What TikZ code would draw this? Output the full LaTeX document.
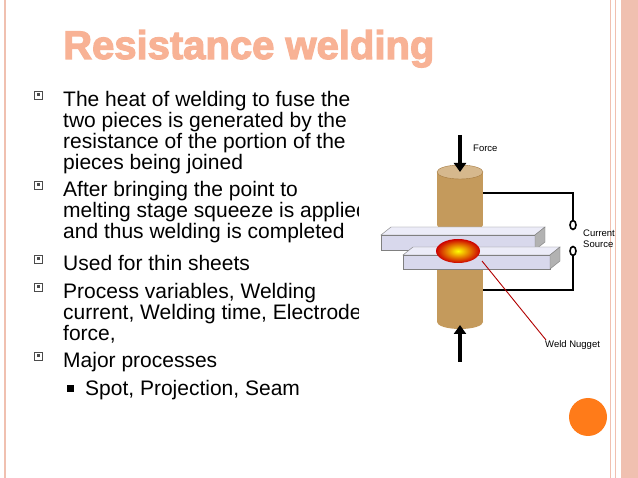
\documentclass[tikz,border=0pt]{standalone}
\usepackage{fontspec}
\setmainfont{Liberation Sans}
\newfontfamily\heavy{Liberation Sans}[BoldFeatures={FakeBold=3}]
\usetikzlibrary{arrows.meta}
\definecolor{peach}{HTML}{F8B295}
\definecolor{stripe}{HTML}{F0C0B0}
\definecolor{copper}{HTML}{C49A5C}
\definecolor{copperd}{HTML}{A57A40}
\definecolor{plate}{HTML}{D8D8EC}
\definecolor{platet}{HTML}{ECECF8}
\begin{document}
\begin{tikzpicture}[x=1pt,y=-1pt,
  body/.style={anchor=base west,font=\fontsize{21}{21}\selectfont,inner sep=0},
  bul/.style={draw=black!70,line width=0.7pt,minimum size=8pt,inner sep=0},
  lab/.style={font=\fontsize{9.5}{11}\selectfont,inner sep=0,anchor=west},
  wire/.style={line width=2.2pt,black}]
\useasboundingbox (0,0) rectangle (638,478);
\fill[white] (0,0) rectangle (638,478);
% border
\draw[stripe,line width=1.5pt] (5,0)--(5,478);
\draw[stripe,line width=1pt] (610,0)--(610,478);
\draw[stripe,line width=1pt] (615,0)--(615,478);
\fill[stripe] (621,0) rectangle (638,478);
\node[anchor=base west,inner sep=0,font=\fontsize{40}{40}\selectfont\heavy\bfseries,text=peach] (title) at (63,59) {Resistance welding};
% bullets
\foreach \y in {100,190,264,292,361}{\node[bul] at (38,\y-5) {}; \fill[black!70] (36.5,\y-6.5) rectangle (39.5,\y-3.5);}
\node[body] (t1) at (63,107) {The heat of welding to fuse the};
\node[body] at (63,128) {two pieces is generated by the};
\node[body] at (63,149) {resistance of the portion of the};
\node[body] at (63,170) {pieces being joined};
\node[body] (t2) at (63,197) {After bringing the point to};
\node[body] at (63,218) {melting stage squeeze is applied};
\node[body] at (63,239) {and thus welding is completed};
\node[body] (t3) at (63,271) {Used for thin sheets};
\node[body] (t4) at (63,299) {Process variables, Welding};
\node[body] at (63,320) {current, Welding time, Electrode};
\node[body] at (63,341) {force,};
\node[body] (t5) at (63,368) {Major processes};
\fill (67,385) rectangle (74,392);
\node[body] (t6) at (85,396) {Spot, Projection, Seam};
\fill[white] (359,125) rectangle (605,375);
% orange dot
\fill[orange!85!red!90] (588,417) circle (19);
% diagram wires
\draw[wire] (483,193) -- (573,193) -- (573,221);
\draw[wire] (573,255) -- (573,290) -- (483,290);
\draw[line width=1.6pt,fill=white] (573,225) ellipse (3 and 4.5);
\draw[line width=1.6pt,fill=white] (573,251) ellipse (3 and 4.5);
% upper electrode
\fill[copper] (437,172) rectangle (483,225);
\fill[copper] (460,225) ellipse (23 and 7);
\fill[copper!70!white] (460,172) ellipse (23 and 7);
\draw[copperd,line width=0.4pt] (460,172) ellipse (23 and 7);
% lower electrode
\fill[copper] (437,262) rectangle (483,322);
\fill[copper] (460,322) ellipse (23 and 7);
% upper plate
\fill[platet,draw=gray] (381,235) -- (391,227) -- (545,227) -- (535,235) -- cycle;
\fill[plate,draw=gray] (381,235) rectangle (535,250);
\fill[gray!60,draw=gray] (535,235) -- (545,227) -- (545,242) -- (535,250) -- cycle;
% lower plate
\fill[platet,draw=gray] (403,255) -- (413,247) -- (560,247) -- (550,255) -- cycle;
\fill[plate,draw=gray] (403,255) rectangle (550,269);
\fill[gray!60,draw=gray] (550,255) -- (560,247) -- (560,261) -- (550,269) -- cycle;
% nugget
\shade[inner color=yellow,outer color=red!80!black] (458,251) ellipse (22 and 12);
% arrows
\draw[-{Triangle[length=9pt,width=12pt]},line width=3.5pt] (460,135) -- (460,172);
\draw[-{Triangle[length=9pt,width=12pt]},line width=3.5pt] (460,362) -- (460,325);
\draw[red!70!black,line width=0.9pt] (482,261) -- (546,340);
\node[lab] (force) at (473,148) {Force};
\node[lab,align=left] (cs) at (583,239) {Current\\Source};
\node[lab] (wn) at (545,345) {Weld Nugget};
\end{tikzpicture}
\end{document}
